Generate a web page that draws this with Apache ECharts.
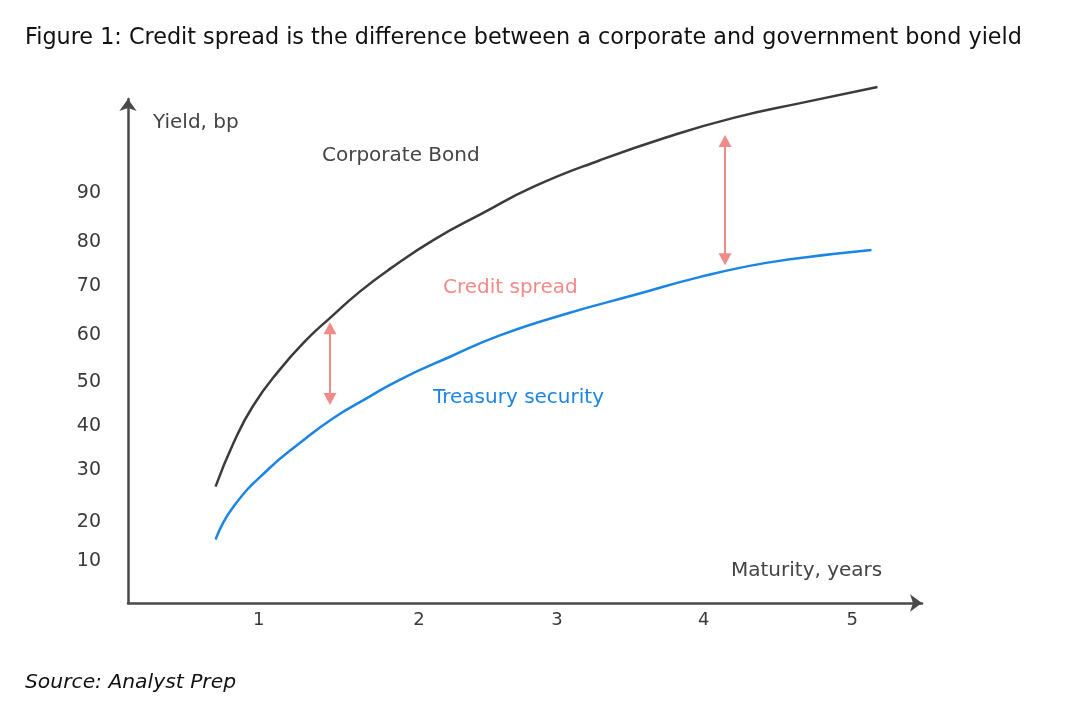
<!DOCTYPE html>
<html>
<head>
<meta charset="utf-8">
<title>Credit spread</title>
<script src="https://cdn.jsdelivr.net/npm/echarts@6/dist/echarts.min.js"></script>
<style>
html, body { margin: 0; padding: 0; background: #fff; }
#main { width: 1068px; height: 711px; }
</style>
</head>
<body>
<div id="main"></div>
<script>
// curves (maturity in years, yield in bp)
var corporateYears = [0.71, 0.83, 0.96, 1.14, 1.32, 1.48, 1.68, 1.89, 2.18, 2.51, 2.85, 3.30, 3.75, 4.20, 4.65, 5.17];
var corporateYield = [26.3, 35.7, 43.7, 51.6, 58.1, 62.9, 68.6, 73.7, 79.9, 85.7, 91.4, 97.2, 102.2, 106.4, 109.6, 113.1];
var treasuryYears = [0.71, 0.83, 1.06, 1.28, 1.50, 1.73, 1.95, 2.29, 2.63, 3.08, 3.53, 3.97, 4.42, 4.87, 5.13];
var treasuryYield = [14.8, 21.9, 29.9, 35.8, 41.1, 45.5, 49.5, 54.5, 59.2, 63.9, 67.9, 71.8, 74.9, 76.8, 77.7];

// credit spread arrows (centre of each arrow head)
var spreadYears = [1.481, 4.143];
var spreadTop = [60.7, 101.4];
var spreadBottom = [45.3, 75.7];

// tick labels (drawn where the sketch puts them)
var xTickValues = [1, 2.08, 3.01, 4.0, 5];
var xTickLabels = ['1', '2', '3', '4', '5'];
var yTickValues = [10.1, 18.6, 29.9, 39.5, 49.0, 59.2, 69.9, 79.4, 90];
var yTickLabels = ['10', '20', '30', '40', '50', '60', '70', '80', '90'];

var FONT = '"DejaVu Sans", "Open Sans", sans-serif';
var AXIS_COLOR = '#4a4a4a';

function zip(xs, ys) {
    var out = [];
    for (var i = 0; i < xs.length; i++) out.push([xs[i], ys[i]]);
    return out;
}

var arrowData = [];
for (var i = 0; i < spreadYears.length; i++) {
    arrowData.push([
        {coord: [spreadYears[i], spreadTop[i]]},
        {coord: [spreadYears[i], spreadBottom[i]]}
    ]);
}

var chart = echarts.init(document.getElementById('main'));

var option = {
    backgroundColor: '#fff',
    animation: false,
    title: [{
        text: 'Figure 1: Credit spread is the difference between a corporate and government bond yield',
        left: 20, top: 22,
        textStyle: {fontFamily: FONT, fontWeight: 'normal', fontSize: 22.3, color: '#111'}
    }, {
        text: 'Source: Analyst Prep',
        left: 20, top: 668,
        textStyle: {fontFamily: FONT, fontStyle: 'italic', fontWeight: 'normal', fontSize: 20.3, color: '#111'}
    }],
    grid: {left: 128, right: 146, top: 99, bottom: 108, containLabel: false, outerBoundsMode: 'none'},
    xAxis: {
        type: 'value',
        min: 0.12,
        max: 5.47,
        splitLine: {show: false},
        axisTick: {show: false},
        axisLine: {
            show: true,
            symbol: ['none', 'arrow'],
            symbolSize: [13, 12],
            lineStyle: {color: AXIS_COLOR, width: 2.5}
        },
        axisLabel: {
            customValues: xTickValues,
            margin: 8,
            color: '#3a3a3a',
            fontFamily: FONT,
            fontSize: 18,
            formatter: function (v) {
                var k = xTickValues.indexOf(v);
                return k >= 0 ? xTickLabels[k] : '';
            }
        }
    },
    yAxis: {
        type: 'value',
        min: 1,
        max: 110.5,
        splitLine: {show: false},
        axisTick: {show: false},
        axisLine: {
            show: true,
            symbol: ['none', 'arrow'],
            symbolSize: [13, 12],
            lineStyle: {color: AXIS_COLOR, width: 2.5}
        },
        axisLabel: {
            customValues: yTickValues,
            margin: 27,
            color: '#3a3a3a',
            fontFamily: FONT,
            fontSize: 19,
            formatter: function (v) {
                var k = yTickValues.indexOf(v);
                return k >= 0 ? yTickLabels[k] : '';
            }
        }
    },
    graphic: [
        {type: 'text', left: 153, top: 113, style: {text: 'Yield, bp', fill: '#444', font: '20px ' + FONT}},
        {type: 'text', left: 322, top: 146, style: {text: 'Corporate Bond', fill: '#444', font: '20px ' + FONT}},
        {type: 'text', left: 443, top: 278, style: {text: 'Credit spread', fill: '#f28a8a', font: '20px ' + FONT}},
        {type: 'text', left: 433, top: 388, style: {text: 'Treasury security', fill: '#1a85e3', font: '20px ' + FONT}},
        {type: 'text', left: 731, top: 561, style: {text: 'Maturity, years', fill: '#444', font: '20px ' + FONT}}
    ],
    series: [
        {
            name: 'Corporate Bond',
            type: 'line',
            data: zip(corporateYears, corporateYield),
            smooth: 0.5,
            clip: false,
            showSymbol: false,
            lineStyle: {color: '#3b3b3b', width: 2.5}
        },
        {
            name: 'Treasury security',
            type: 'line',
            data: zip(treasuryYears, treasuryYield),
            smooth: 0.5,
            clip: false,
            showSymbol: false,
            lineStyle: {color: '#1a85e3', width: 2.5},
            markLine: {
                silent: true,
                symbol: ['triangle', 'triangle'],
                symbolSize: [13, 12],
                label: {show: false},
                lineStyle: {color: '#f28a8a', width: 2, type: 'solid'},
                data: arrowData
            }
        }
    ]
};

chart.setOption(option);
</script>
</body>
</html>
